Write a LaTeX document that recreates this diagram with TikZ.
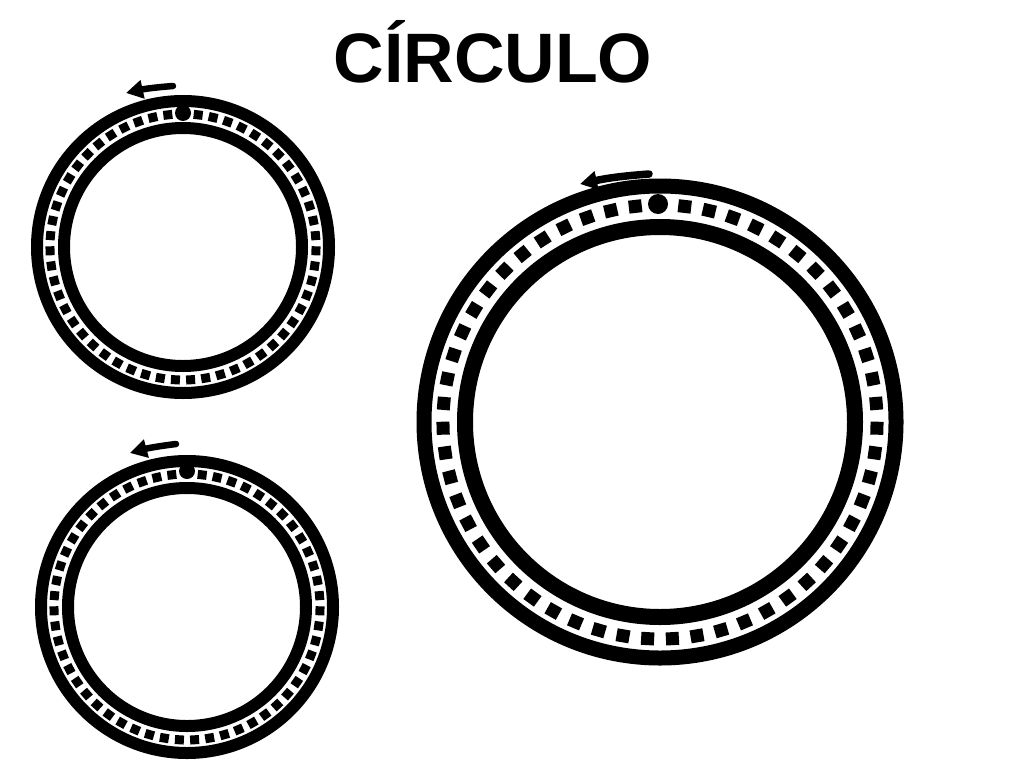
\documentclass[tikz,border=0pt]{standalone}
\usepackage{fontspec}
\setmainfont{Liberation Sans}
\usetikzlibrary{arrows.meta}
\tikzset{
  band/.style={draw=black, fill=none},
  dirarrow/.style={draw=black, line cap=round, -{Triangle[length=17, width=18]}},
  dotmark/.style={circle, fill=black, inner sep=0pt},
}
\begin{document}
\begin{tikzpicture}[x=1pt,y=-1pt]
\useasboundingbox (0,0) rectangle (1024,768);
\fill[white] (0,0) rectangle (1024,768);
\node[font=\bfseries\fontsize{70}{80}\selectfont, anchor=base, inner sep=0pt] (title) at (493,82) {CÍRCULO};

% circle 1
\coordinate (c1) at (183,247);
\draw[band, line width=12] (c1) circle (146);
\draw[band, line width=12] (c1) circle (119);
\foreach \k in {1,...,54} {
  \fill[shift={(c1)}, rotate={90+\k*6.54545}] (128.5,-4.5) rectangle (137.5,4.5);
}
\node[dotmark, minimum size=16] (d1) at (183,113) {};
\coordinate (a1s) at (173,86);
\coordinate (a1e) at (126,93);
\draw[dirarrow, line width=6.5] (a1s) to[bend right=4] (a1e);

% circle 2
\coordinate (c2) at (187,607);
\draw[band, line width=12] (c2) circle (146);
\draw[band, line width=12] (c2) circle (119);
\foreach \k in {1,...,54} {
  \fill[shift={(c2)}, rotate={90+\k*6.54545}] (128.5,-4.5) rectangle (137.5,4.5);
}
\node[dotmark, minimum size=16] (d2) at (187,471) {};
\coordinate (a2s) at (176,444);
\coordinate (a2e) at (130,453);
\draw[dirarrow, line width=6.5] (a2s) to[bend right=4] (a2e);

% circle 3
\coordinate (c3) at (660,422);
\draw[band, line width=15] (c3) circle (236);
\draw[band, line width=16] (c3) circle (195);
\foreach \k in {1,...,54} {
  \fill[shift={(c3)}, rotate={90+\k*6.54545}] (210.5,-6.5) rectangle (223.5,6.5);
}
\node[dotmark, minimum size=20] (d3) at (658,204) {};
\coordinate (a3s) at (649,174);
\coordinate (a3e) at (580,184);
\draw[dirarrow, line width=7.5] (a3s) to[bend right=4] (a3e);
\end{tikzpicture}
\end{document}
